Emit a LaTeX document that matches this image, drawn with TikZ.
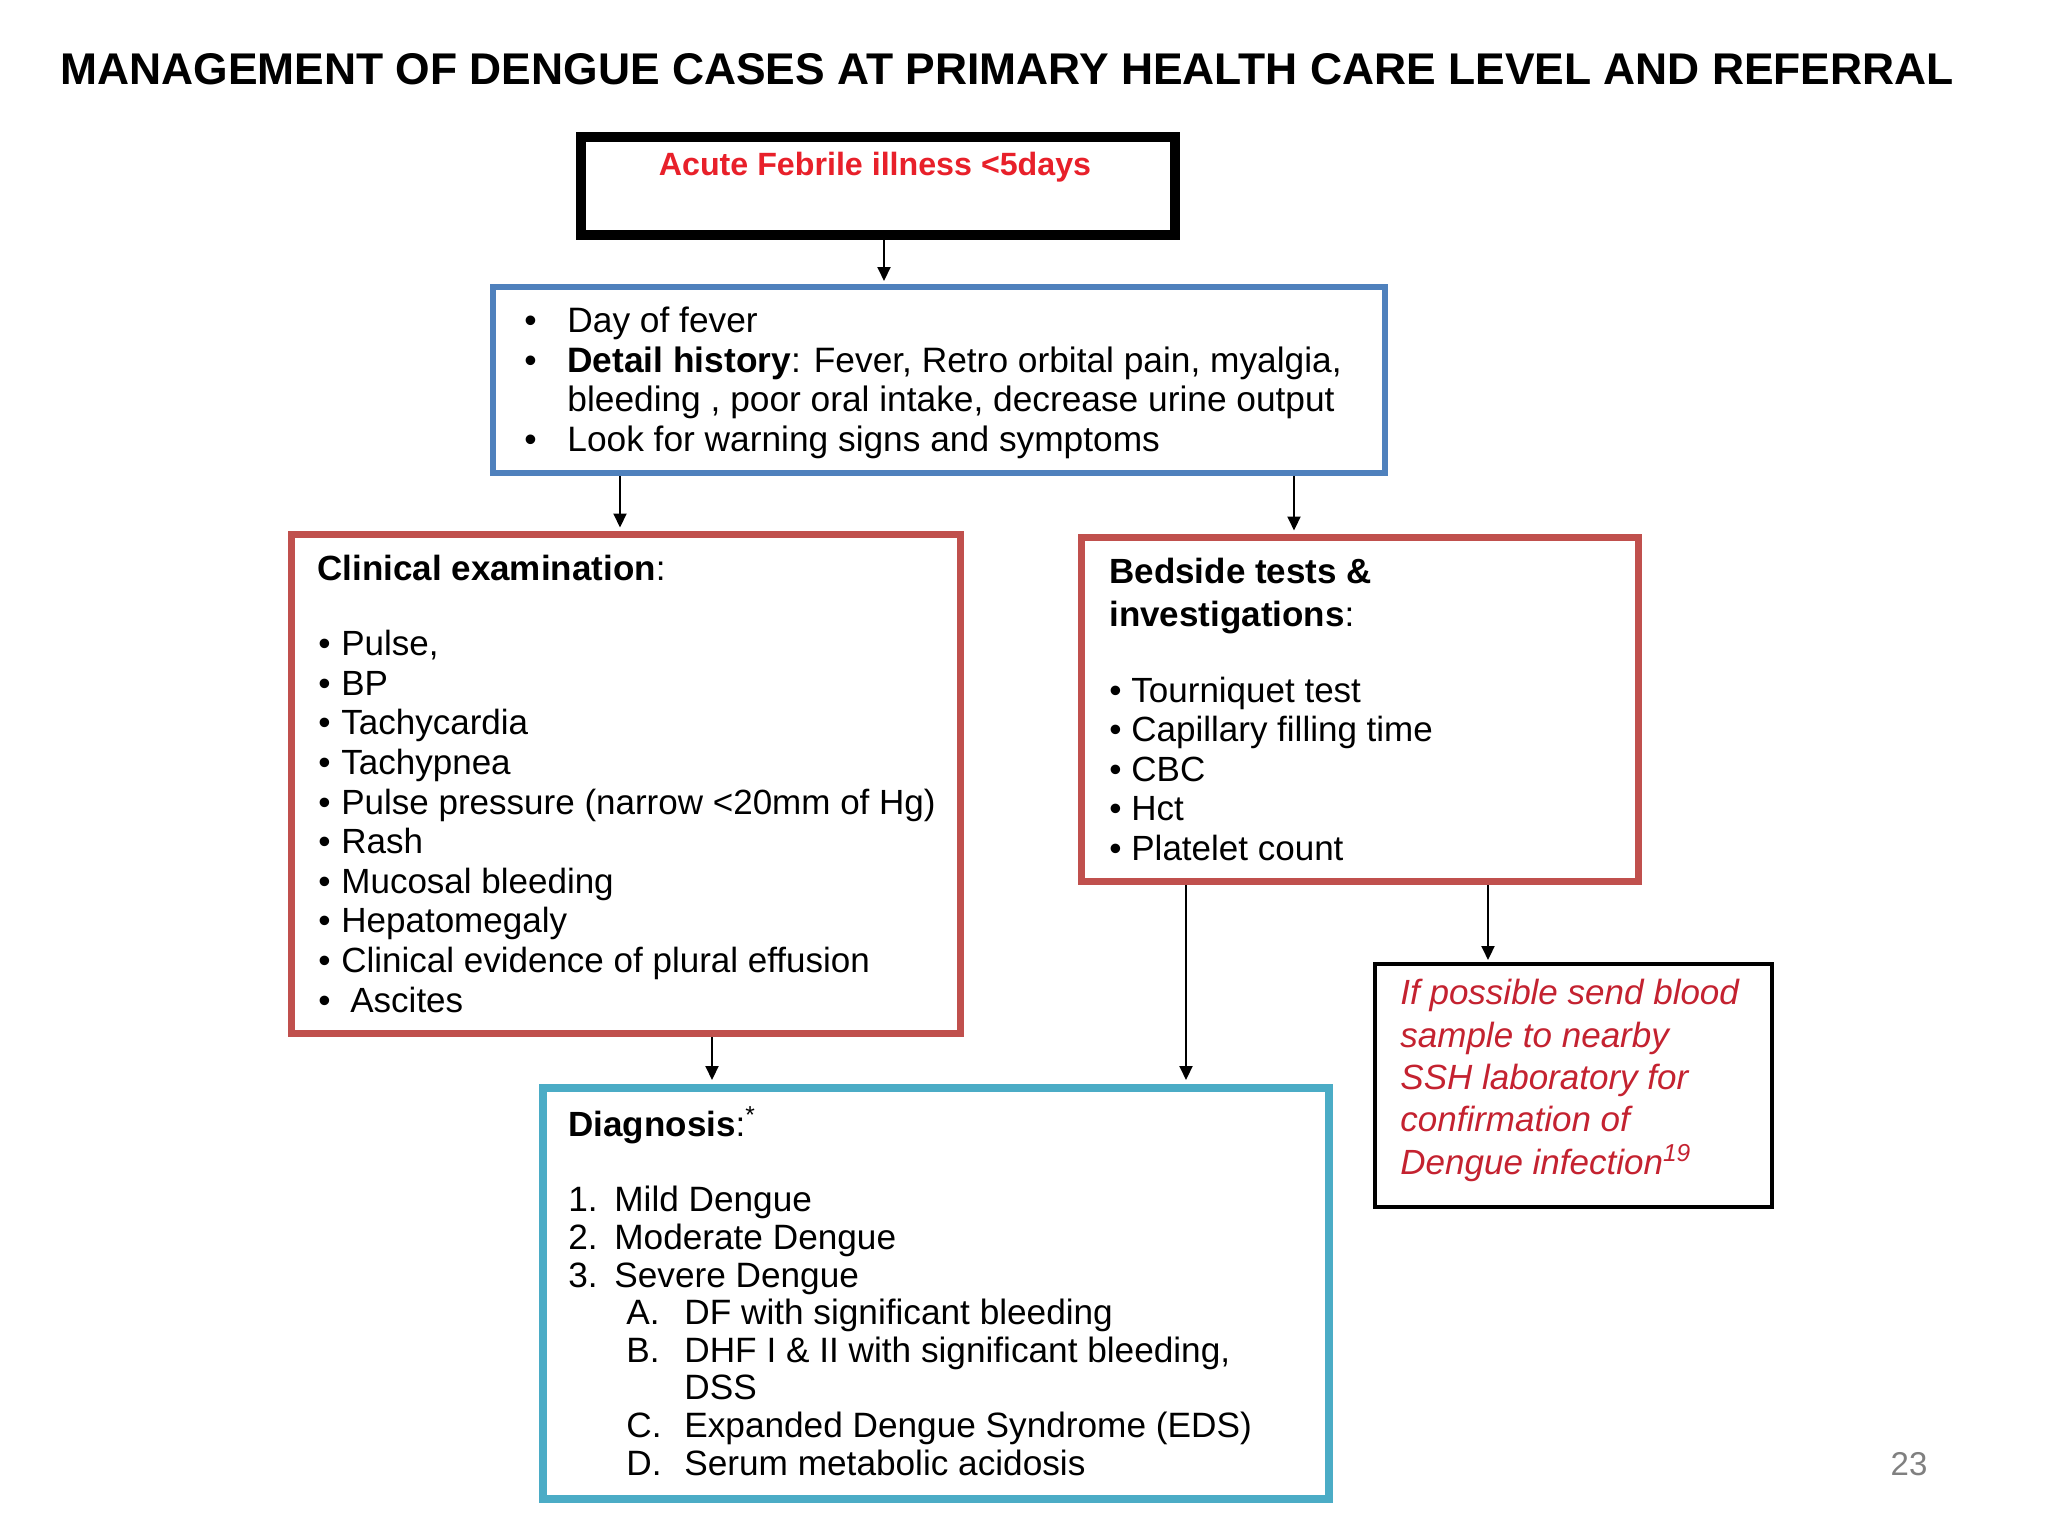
\documentclass[tikz,border=0pt]{standalone}
\usepackage{fontspec}
\setmainfont{Liberation Sans}
\usetikzlibrary{arrows.meta}
\definecolor{bluebd}{HTML}{4F81BD}
\definecolor{redbd}{HTML}{C0504D}
\definecolor{tealbd}{HTML}{4BACC6}
\definecolor{redtxt}{HTML}{E8202A}
\definecolor{redital}{HTML}{C42230}
\definecolor{pgnum}{HTML}{808080}
\begin{document}
\begin{tikzpicture}[x=0.5pt,y=-0.5pt,
  box/.style={draw, rectangle, inner sep=0pt, anchor=north west, fill=white},
  txt/.style={anchor=base west, inner sep=0pt, align=left, font=\fontsize{17.5}{19.8}\selectfont},
  arr/.style={-{Triangle[width=6.5pt,length=7pt]}, line width=1pt}
]
\useasboundingbox (0,0) rectangle (2048,1536);
\fill[white] (0,0) rectangle (2048,1536);

% title
\node[anchor=base west, inner sep=0pt, font=\fontsize{22.2}{24}\selectfont\bfseries] (title) at (60,85)
  {MANAGEMENT OF DENGUE CASES AT PRIMARY HEALTH CARE LEVEL AND REFERRAL};

% boxes
\node[box, line width=5pt, minimum width=297pt, minimum height=49pt] (b1) at (576,132) {};
\node[box, draw=bluebd, line width=3pt, minimum width=446pt, minimum height=93pt] (b2) at (490,284) {};
\node[box, draw=redbd, line width=3.5pt, minimum width=334.5pt, minimum height=249.5pt] (b3) at (288,531) {};
\node[box, draw=redbd, line width=3.5pt, minimum width=278.5pt, minimum height=172pt] (b4) at (1078,534) {};
\node[box, draw=tealbd, line width=4pt, minimum width=393pt, minimum height=205.5pt] (b5) at (539,1084) {};
\node[box, line width=2pt, minimum width=198.5pt, minimum height=121.5pt] (b6) at (1373,962) {};

% texts (multi-line nodes are anchored at the baseline of their last line)
\node[anchor=base, inner sep=0pt, text=redtxt, font=\fontsize{16.1}{18}\selectfont\bfseries] (t1) at (875,175)
  {Acute Febrile illness <5days};

\node[txt, font=\fontsize{17.65}{19.7}\selectfont] (t2) at (524,451)
  {\makebox[21.5pt][l]{•}Day of fever\\
   \makebox[21.5pt][l]{•}\textbf{Detail history}: Fever, Retro orbital pain, myalgia,\\
   \hspace*{21.5pt}bleeding , poor oral intake, decrease urine output\\
   \makebox[21.5pt][l]{•}Look for warning signs and symptoms};

\node[txt] (t3h) at (317,580) {\textbf{Clinical examination}:};
\node[txt] (t3) at (318,1012)
  {\makebox[11.5pt][l]{•}Pulse,\\
   \makebox[11.5pt][l]{•}BP\\
   \makebox[11.5pt][l]{•}Tachycardia\\
   \makebox[11.5pt][l]{•}Tachypnea\\
   \makebox[11.5pt][l]{•}Pulse pressure (narrow <20mm of Hg)\\
   \makebox[11.5pt][l]{•}Rash\\
   \makebox[11.5pt][l]{•}Mucosal bleeding\\
   \makebox[11.5pt][l]{•}Hepatomegaly\\
   \makebox[11.5pt][l]{•}Clinical evidence of plural effusion\\
   \makebox[16pt][l]{•}Ascites};

\node[txt, font=\fontsize{17.5}{21.5}\selectfont] (t4h) at (1109,626)
  {\textbf{Bedside tests \&}\\ \textbf{investigations}:};
\node[txt, font=\fontsize{17.5}{19.75}\selectfont] (t4) at (1109,860)
  {\makebox[11pt][l]{•}Tourniquet test\\
   \makebox[11pt][l]{•}Capillary filling time\\
   \makebox[11pt][l]{•}CBC\\
   \makebox[11pt][l]{•}Hct\\
   \makebox[11pt][l]{•}Platelet count};

\node[txt] (t5h) at (568,1136) {\textbf{Diagnosis}:\textsuperscript{*}};
\node[txt, font=\fontsize{17.6}{18.8}\selectfont] (t5) at (568,1475)
  {\makebox[23pt][l]{1.}Mild Dengue\\
   \makebox[23pt][l]{2.}Moderate Dengue\\
   \makebox[23pt][l]{3.}Severe Dengue\\
   \hspace*{29pt}\makebox[29pt][l]{A.}DF with significant bleeding\\
   \hspace*{29pt}\makebox[29pt][l]{B.}DHF I \& II with significant bleeding,\\
   \hspace*{58pt}DSS\\
   \hspace*{29pt}\makebox[29pt][l]{C.}Expanded Dengue Syndrome (EDS)\\
   \hspace*{29pt}\makebox[29pt][l]{D.}Serum metabolic acidosis};

\node[txt, text=redital, font=\fontsize{17.5}{21.15}\selectfont\itshape] (t6) at (1400,1174)
  {If possible send blood\\
   sample to nearby\\
   SSH laboratory for\\
   confirmation of\\
   Dengue infection\textsuperscript{19}};

\node[anchor=base, inner sep=0pt, text=pgnum, font=\fontsize{16.5}{18}\selectfont] (pg) at (1909,1475) {23};

% arrows
\coordinate (x12) at (884,0);
\coordinate (x23) at (620,0);
\coordinate (x24) at (1294,0);
\coordinate (x35) at (712,0);
\coordinate (x45) at (1186,0);
\coordinate (x46) at (1488,0);
\draw[arr, shorten >=1.5pt] (b1.south -| x12) -- (b2.north -| x12);
\draw[arr, shorten >=1.75pt] (b2.south -| x23) -- (b3.north -| x23);
\draw[arr, shorten >=1.75pt] (b2.south -| x24) -- (b4.north -| x24);
\draw[arr, shorten >=2pt] (b3.south -| x35) -- (b5.north -| x35);
\draw[arr, shorten >=2pt] (b4.south -| x45) -- (b5.north -| x45);
\draw[arr, shorten >=1pt] (b4.south -| x46) -- (b6.north -| x46);
\end{tikzpicture}
\end{document}
